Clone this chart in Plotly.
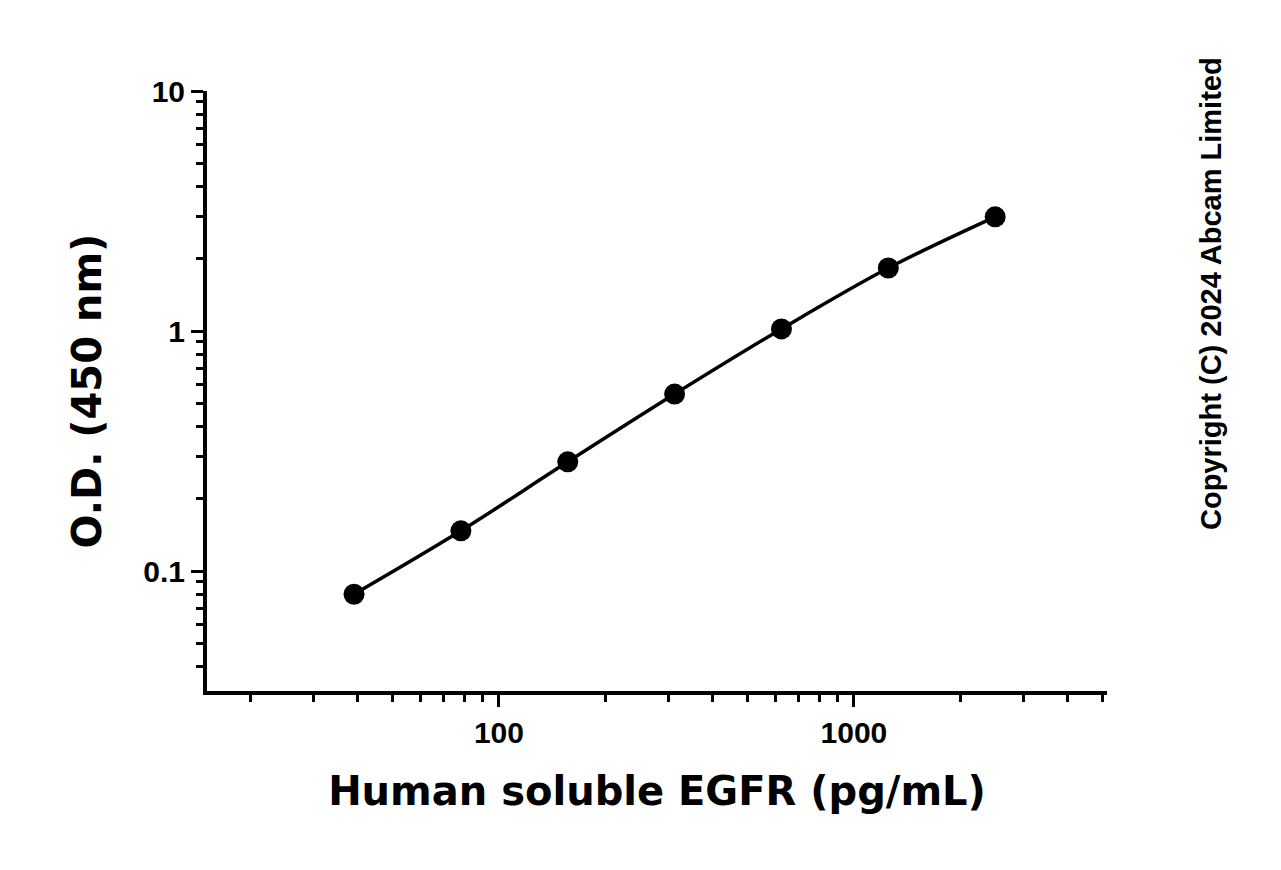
import numpy as np
import plotly.graph_objects as go

conc = [39.06, 78.125, 156.25, 312.5, 625, 1250, 2500]
od = [0.080, 0.147, 0.285, 0.546, 1.02, 1.83, 2.99]

x_major = [100, 1000]
x_minor = [20, 30, 40, 50, 60, 70, 80, 90, 200, 300, 400, 500, 600, 700, 800, 900,
           2000, 3000, 4000, 5000]
y_major = [0.1, 1, 10]
y_minor = [0.04, 0.05, 0.06, 0.07, 0.08, 0.09, 0.2, 0.3, 0.4, 0.5, 0.6, 0.7, 0.8, 0.9,
           2, 3, 4, 5, 6, 7, 8, 9]

fig = go.Figure()
fig.add_trace(go.Scatter(
    x=conc, y=od, mode="lines+markers", line_shape="spline",
    line=dict(color="black", width=3.5),
    marker=dict(color="black", size=21),
))

axis_common = dict(
    type="log", showgrid=False, zeroline=False, showline=True,
    linecolor="black", linewidth=4, ticks="outside", ticklen=12, tickwidth=3,
    tickcolor="black", tickfont=dict(family="Liberation Sans", size=30, color="black"),
)
fig.update_xaxes(
    **axis_common, range=[np.log10(15.05), np.log10(5164)],
    tickmode="array", tickvals=x_major, ticktext=["<b>100</b>", "<b>1000</b>"],
    minor=dict(tickmode="array", tickvals=x_minor, ticks="outside", ticklen=7,
               tickwidth=3, tickcolor="black"),
    title=dict(text="<b>Human soluble EGFR (pg/mL)</b>",
               font=dict(family="DejaVu Sans", size=40, color="black"), standoff=30),
)
fig.update_yaxes(
    **axis_common, range=[-1.5, 1.0],
    tickmode="array", tickvals=y_major,
    ticktext=["<b>0.1</b>", "<b>1</b>", "<b>10</b>"],
    minor=dict(tickmode="array", tickvals=y_minor, ticks="outside", ticklen=7,
               tickwidth=3, tickcolor="black"),
    title=dict(text="<b>O.D. (450 nm)</b>",
               font=dict(family="DejaVu Sans", size=40, color="black"), standoff=30),
)
fig.add_annotation(
    text="<b>Copyright (C) 2024 Abcam Limited</b>", textangle=-90,
    xref="paper", yref="paper", x=1.135, y=0.265, showarrow=False,
    font=dict(family="Liberation Sans", size=29, color="black"),
)
fig.update_layout(
    width=1281, height=870, showlegend=False,
    plot_bgcolor="white", paper_bgcolor="white",
    margin=dict(l=199, r=182, t=83, b=187),
)
fig.write_html("out.html")
